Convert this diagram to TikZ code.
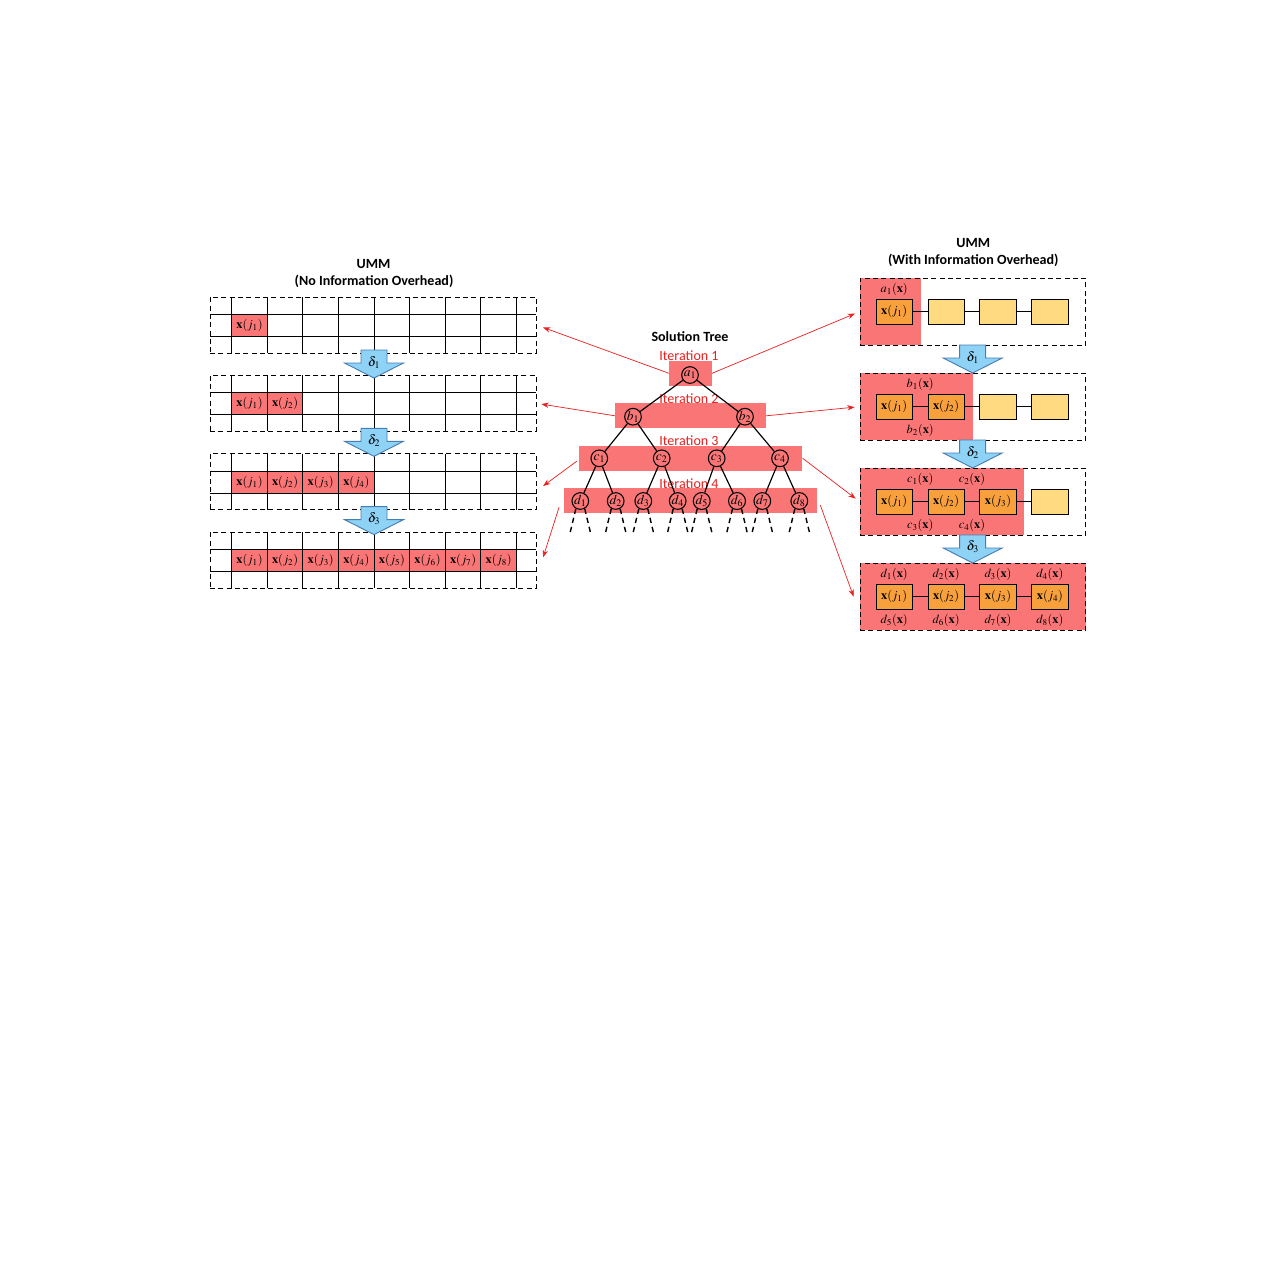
\documentclass[tikz,border=0pt]{standalone}
\usepackage{mathptmx}
\usepackage{fontspec}
\setmainfont{Liberation Serif}
\newfontfamily\carlito{Carlito}
\usetikzlibrary{arrows.meta,calc}

\definecolor{bandred}{RGB}{250,118,118}
\definecolor{linkred}{RGB}{232,32,32}
\definecolor{boxorange}{RGB}{247,160,60}
\definecolor{boxyellow}{RGB}{255,218,128}
\definecolor{deltafill}{RGB}{142,210,245}
\definecolor{deltaline}{RGB}{70,125,180}

\begin{document}
\begin{tikzpicture}[x=0.3mm,y=-0.3mm,
    every node/.style={font=\fontsize{10.5}{12}\selectfont},
    paneltitle/.style={font=\carlito\bfseries\fontsize{12}{14}\selectfont},
    itlabel/.style={font=\carlito\fontsize{12}{14}\selectfont, text=linkred},
    gridline/.style={line width=0.7pt},
    gridbox/.style={draw, dash pattern=on 1.5mm off 1mm, line width=0.7pt, minimum width=97.8mm, minimum height=16.8mm, inner sep=0},
    umcell/.style={fill=bandred, minimum width=10.68mm, minimum height=6.6mm, inner sep=0},
    umbox/.style={draw, dash pattern=on 1.5mm off 1mm, line width=0.7pt, minimum width=67.7mm, minimum height=20mm, inner sep=0},
    obox/.style={draw, fill=boxorange, line width=0.5pt, minimum width=10.95mm, minimum height=7.5mm, inner sep=0},
    ybox/.style={draw, fill=boxyellow, line width=0.5pt, minimum width=10.95mm, minimum height=7.5mm, inner sep=0},
    link/.style={line width=0.6pt},
    band/.style={fill=bandred, minimum height=7.5mm, inner sep=0},
    tnode/.style={circle, draw, line width=0.9pt, minimum size=5mm, inner sep=0, font=\fontsize{11.5}{13}\selectfont},
    tedge/.style={line width=1pt},
    leg/.style={line width=1.2pt, dash pattern=on 1.6mm off 1.2mm},
    redarrow/.style={draw=linkred, line width=0.6pt, -{Stealth[length=2.2mm,width=1.6mm]}},
    darrow/.pic={
        \draw[fill=deltafill, draw=deltaline, line width=0.8pt]
            (-13,0) -- (13,0) -- (13,13) -- (29.5,13) -- (0,28) -- (-29.5,13) -- (-13,13) -- cycle;
        \node[font=\fontsize{11.5}{13}\selectfont] at (0,12) {#1};
    }]
    \useasboundingbox (0,0) rectangle (1280,1280);

    % Left panel: UMM without overhead
    \node[paneltitle] (umm1) at (373.5,264) {UMM};
    \node[paneltitle] (sub1) at (374,281) {(No Information Overhead)};

    \foreach \n/\t in {1/297,2/375.3,4/453.6,8/532}
        \foreach \i in {1,...,\n}
            \node[umcell] (x\n-\i) at (213.9+35.6*\i,\t+28.5) {$\mathbf{x}(j_{\i})$};

    \foreach \t in {297,375.3,453.6,532} {
        \draw[gridline] (210,\t+17.5) -- (536,\t+17.5);
        \draw[gridline] (210,\t+39.5) -- (536,\t+39.5);
        \foreach \k in {0,...,8}
            \draw[gridline] (231.7+35.6*\k,\t) -- (231.7+35.6*\k,\t+56);
    }

    \node[gridbox] (g1) at (373,325) {};
    \node[gridbox] (g2) at (373,403.3) {};
    \node[gridbox] (g3) at (373,481.6) {};
    \node[gridbox] (g4) at (373,560) {};

    \pic at (374,350) {darrow={$\delta_1$}};
    \pic at (374,428.3) {darrow={$\delta_2$}};
    \pic at (374,506.6) {darrow={$\delta_3$}};

    % Right panel: UMM with overhead
    \node[paneltitle] (umm2) at (973.3,243.3) {UMM};
    \node[paneltitle] (sub2) at (973.3,260.7) {(With Information Overhead)};

    \fill[bandred] (860,278.3) rectangle (921,345);
    \fill[bandred] (860,373.3) rectangle (972.7,440);
    \fill[bandred] (860,468.3) rectangle (1024,535);
    \fill[bandred] (860,563.3) rectangle (1085.7,630);

    \node[umbox] (u1) at (972.85,311.65) {};
    \node[umbox] (u2) at (972.85,406.65) {};
    \node[umbox] (u3) at (972.85,501.65) {};
    \node[umbox] (u4) at (972.85,596.65) {};

    \node[obox] (r1-1) at (894.2,311.65) {$\mathbf{x}(j_1)$};
    \node[ybox] (r1-2) at (946.1,311.65) {};
    \node[ybox] (r1-3) at (998,311.65) {};
    \node[ybox] (r1-4) at (1049.9,311.65) {};
    \draw[link] (r1-1) -- (r1-2) -- (r1-3) -- (r1-4);
    \node (la1) at (894.2,289.3) {$a_1(\mathbf{x})$};

    \node[obox] (r2-1) at (894.2,406.65) {$\mathbf{x}(j_1)$};
    \node[obox] (r2-2) at (946.1,406.65) {$\mathbf{x}(j_2)$};
    \node[ybox] (r2-3) at (998,406.65) {};
    \node[ybox] (r2-4) at (1049.9,406.65) {};
    \draw[link] (r2-1) -- (r2-2) -- (r2-3) -- (r2-4);
    \node (lb1) at (920.2,384.3) {$b_1(\mathbf{x})$};
    \node (lb2) at (920.2,430.3) {$b_2(\mathbf{x})$};

    \node[obox] (r3-1) at (894.2,501.65) {$\mathbf{x}(j_1)$};
    \node[obox] (r3-2) at (946.1,501.65) {$\mathbf{x}(j_2)$};
    \node[obox] (r3-3) at (998,501.65) {$\mathbf{x}(j_3)$};
    \node[ybox] (r3-4) at (1049.9,501.65) {};
    \draw[link] (r3-1) -- (r3-2) -- (r3-3) -- (r3-4);
    \node (lc1) at (920.2,479.3) {$c_1(\mathbf{x})$};
    \node (lc2) at (972,479.3) {$c_2(\mathbf{x})$};
    \node (lc3) at (920.2,525.3) {$c_3(\mathbf{x})$};
    \node (lc4) at (972,525.3) {$c_4(\mathbf{x})$};

    \node[obox] (r4-1) at (894.2,596.65) {$\mathbf{x}(j_1)$};
    \node[obox] (r4-2) at (946.1,596.65) {$\mathbf{x}(j_2)$};
    \node[obox] (r4-3) at (998,596.65) {$\mathbf{x}(j_3)$};
    \node[obox] (r4-4) at (1049.9,596.65) {$\mathbf{x}(j_4)$};
    \draw[link] (r4-1) -- (r4-2) -- (r4-3) -- (r4-4);
    \foreach \k in {1,...,4} {
        \node (ld\k) at (842.3+51.9*\k,574.3) {$d_{\k}(\mathbf{x})$};
        \pgfmathtruncatemacro{\m}{\k+4}
        \node (ld\m) at (842.3+51.9*\k,620.7) {$d_{\m}(\mathbf{x})$};
    }

    \pic at (972.7,345) {darrow={$\delta_1$}};
    \pic at (972.7,440) {darrow={$\delta_2$}};
    \pic at (972.7,535) {darrow={$\delta_3$}};

    % Solution tree
    \node[paneltitle] (soltree) at (690,337) {Solution Tree};

    \node[band, minimum width=12.72mm] (it1) at (690.5,373.35) {};
    \node[band, minimum width=45.3mm] (it2) at (690.5,415.8) {};
    \node[band, minimum width=67mm] (it3) at (690.65,458.2) {};
    \node[band, minimum width=76mm] (it4) at (690.65,500.8) {};

    \node[itlabel] (lab1) at (689,356) {Iteration 1};
    \node[itlabel] (lab2) at (689,399) {Iteration 2};
    \node[itlabel] (lab3) at (689,440.7) {Iteration 3};
    \node[itlabel] (lab4) at (689,484) {Iteration 4};

    \node[tnode] (a1) at (690,375) {$a_1$};

    \node[tnode] (b1) at (633,416.7) {$b_1$};
    \node[tnode] (b2) at (745,416.7) {$b_2$};

    \node[tnode] (c1) at (599.3,458.3) {$c_1$};
    \node[tnode] (c2) at (661.7,458.3) {$c_2$};
    \node[tnode] (c3) at (716.7,458.3) {$c_3$};
    \node[tnode] (c4) at (780,458.3) {$c_4$};

    \node[tnode] (d1) at (580.3,501) {$d_1$};
    \node[tnode] (d2) at (615.7,501) {$d_2$};
    \node[tnode] (d3) at (643.3,501) {$d_3$};
    \node[tnode] (d4) at (677.7,501) {$d_4$};
    \node[tnode] (d5) at (701.7,501) {$d_5$};
    \node[tnode] (d6) at (737,501) {$d_6$};
    \node[tnode] (d7) at (762.3,501) {$d_7$};
    \node[tnode] (d8) at (799.3,501) {$d_8$};

    \draw[tedge] (a1) -- (b1);
    \draw[tedge] (a1) -- (b2);
    \draw[tedge] (b1) -- (c1);
    \draw[tedge] (b1) -- (c2);
    \draw[tedge] (b2) -- (c3);
    \draw[tedge] (b2) -- (c4);
    \draw[tedge] (c1) -- (d1);
    \draw[tedge] (c1) -- (d2);
    \draw[tedge] (c2) -- (d3);
    \draw[tedge] (c2) -- (d4);
    \draw[tedge] (c3) -- (d5);
    \draw[tedge] (c3) -- (d6);
    \draw[tedge] (c4) -- (d7);
    \draw[tedge] (c4) -- (d8);

    \foreach \d in {d1,d2,d3,d4,d5,d6,d7,d8} {
        \draw[leg] (\d.-120) -- ++(-6,25);
        \draw[leg] (\d.-60) -- ++(6,25);
    }

    % Links from the iterations to both panels
    \draw[redarrow, shorten >=2.1mm] (it1.west) -- (g1.east);
    \draw[redarrow, shorten >=1.5mm] (it2.west) -- (g2.east);
    \draw[redarrow] ($(it3.west)+(-2,3)$) -- ($(g3.east)+(6.7,4.4)$);
    \draw[redarrow] ($(it4.west)+(-4.7,6.5)$) -- ($(g4.east)+(6.7,-2.7)$);

    \draw[redarrow, shorten >=1.5mm] (it1.east) -- (u1.west);
    \draw[redarrow, shorten >=1.5mm] (it2.east) -- (u2.west);
    \draw[redarrow, shorten >=1.5mm] (it3.east) -- (u3.west);
    \draw[redarrow] ($(it4.east)+(2.7,4.2)$) -- ($(u4.west)+(-6,0)$);
\end{tikzpicture}
\end{document}
